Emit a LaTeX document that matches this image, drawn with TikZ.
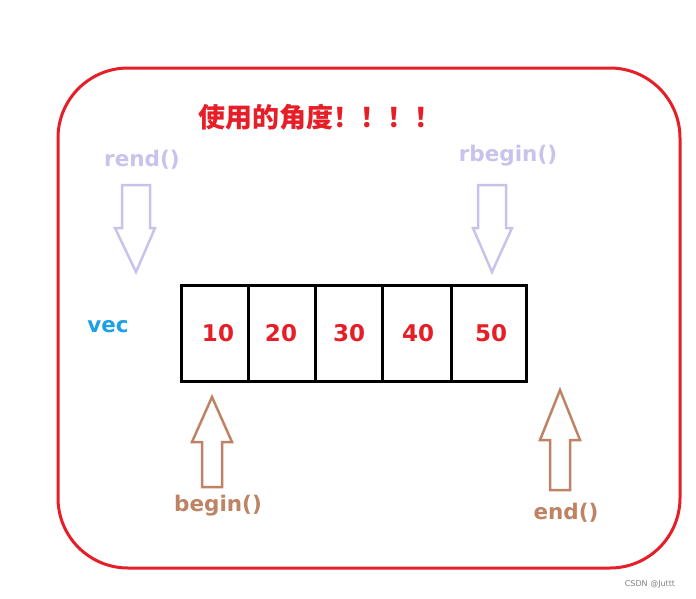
\documentclass[tikz,border=0pt]{standalone}
\usepackage{fontspec}
\setmainfont{DejaVu Sans}
\newfontfamily\cjk{Noto Sans CJK SC}
\begin{document}
\begin{tikzpicture}[x=1pt,y=-1pt]
\definecolor{lav}{RGB}{200,195,235}
\definecolor{brn}{RGB}{190,130,100}
\definecolor{vb}{RGB}{30,160,230}
\definecolor{rd}{RGB}{230,30,40}
\tikzset{lbl/.style={font=\bfseries\fontsize{21.5}{24}\selectfont},
num/.style={font=\bfseries\fontsize{23}{25}\selectfont,text=rd},
cell/.style={draw,line width=3pt,minimum height=96pt,inner sep=0pt}}
\useasboundingbox (0,0) rectangle (696,598);
\draw[rd,line width=3pt,rounded corners=70pt] (58,68) rectangle (680,568);
\node[text=rd,font=\cjk\bfseries\fontsize{27}{29}\selectfont] (t) at (320,117) {使用的角度！！！！};
\node[lbl,text=lav] (rend) at (142,160) {rend()};
\node[lbl,text=lav] (rbeg) at (508,156) {rbegin()};
\node[lbl,text=vb] (vec) at (108,327) {vec};
\node[lbl,text=brn] (beg) at (218,506) {begin()};
\node[lbl,text=brn] (endn) at (566,513) {end()};
\node[cell,minimum width=67pt] (a) at (214.5,333) {};
\node[cell,minimum width=67pt] (b) at (281.5,333) {};
\node[cell,minimum width=67pt] (c) at (348.5,333) {};
\node[cell,minimum width=69pt] (d) at (416.5,333) {};
\node[cell,minimum width=75pt] (e) at (488.5,333) {};
\foreach \x/\v in {218/10,281/20,349/30,418/40,491/50}
  \node[num] at (\x,333) {\v};
\draw[lav,line width=2.5pt] (122,185)--(150,185)--(150,228)--(155,228)--(136,272)--(115,228)--(122,228)--cycle;
\draw[lav,line width=2.5pt] (478,185)--(506,185)--(506,228)--(512,228)--(492,272)--(473,228)--(478,228)--cycle;
\draw[brn,line width=2.5pt] (202,487)--(222,487)--(222,442)--(232,442)--(212,397)--(192,442)--(202,442)--cycle;
\draw[brn,line width=2.5pt] (550,490)--(570,490)--(570,440)--(580,440)--(560,390)--(540,440)--(550,440)--cycle;
\node[text=gray,font=\fontsize{8}{9}\selectfont] (w) at (650,584) {CSDN @Juttt};
\end{tikzpicture}
\end{document}
